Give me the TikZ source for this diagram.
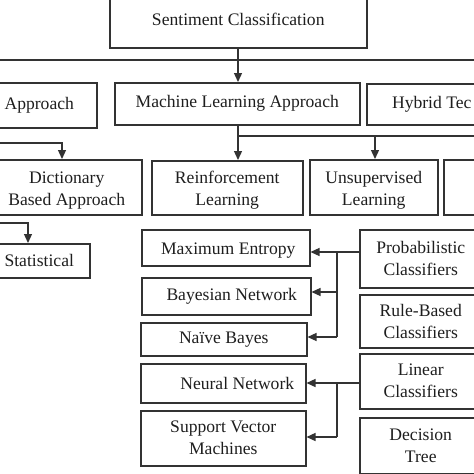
\documentclass[tikz,border=0pt]{standalone}
\usepackage{fontspec}
\setmainfont{Liberation Serif}
\usetikzlibrary{arrows.meta}
\definecolor{boxc}{HTML}{333333}
\definecolor{txtc}{HTML}{1E1E1E}
\tikzset{
  bx/.style={draw=boxc, line width=1.5pt, inner sep=0pt, align=center,
    anchor=north west, text=txtc, font=\fontsize{17.6}{22}\selectfont},
  conn/.style={draw=boxc, line width=1.3pt},
  arr/.style={conn, -{Triangle[length=9pt,width=8pt]}}
}
\newcommand{\dn}{\rule{0pt}{18pt}}
\begin{document}
\begin{tikzpicture}[x=1pt,y=-1pt]
\useasboundingbox (0,0) rectangle (474,474);
\clip (0,0) rectangle (474,474);
% row 1
\node[bx, minimum width=257pt, minimum height=56pt] (sent) at (109,-9) {Sentiment Classification};
% row 2
\node[bx, minimum width=115pt, minimum height=45pt] (lex) at (-19,82) {Approach};
\node[bx, minimum width=245pt, minimum height=42pt] (ml) at (114,82) {Machine Learning Approach};
\node[bx, minimum width=130pt, minimum height=41pt] (hyb) at (366,83) {Hybrid Tec};
% row 3
\node[bx, minimum width=150pt, minimum height=55pt] (dict) at (-9,159) {\dn Dictionary\\Based Approach};
\node[bx, minimum width=151pt, minimum height=54pt] (reinf) at (151,160) {\dn Reinforcement\\Learning};
\node[bx, minimum width=128pt, minimum height=55pt] (unsup) at (309,159) {\dn Unsupervised\\Learning};
\node[bx, minimum width=80pt, minimum height=55pt] (sup) at (443,159) {};
% row 4 left
\node[bx, minimum width=101pt, minimum height=34pt] (stat) at (-12,243) {Statistical};
% classifiers
\node[bx, minimum width=168pt, minimum height=36pt] (maxent) at (141,229) {\dn\hspace*{5pt}Maximum Entropy};
\node[bx, minimum width=169pt, minimum height=37pt] (bnet) at (141,277) {\hspace*{11pt}Bayesian Network};
\node[bx, minimum width=166pt, minimum height=33pt] (nb) at (140,322) {Na\"ive Bayes};
\node[bx, minimum width=165pt, minimum height=39pt] (nn) at (140,363) {\hspace*{28pt}Neural Network};
\node[bx, minimum width=165pt, minimum height=55pt] (svm) at (140,410) {Support Vector\\Machines};
\node[bx, minimum width=122pt, minimum height=58pt] (prob) at (359,229) {Probabilistic\\Classifiers};
\node[bx, minimum width=122pt, minimum height=53pt] (rule) at (359,294) {Rule-Based\\Classifiers};
\node[bx, minimum width=122pt, minimum height=55pt] (lin) at (359,353) {Linear\\Classifiers};
\node[bx, minimum width=122pt, minimum height=56pt] (dec) at (359,417) {Decision\\Tree};
% top connectors
\coordinate (hl) at (-5,60);
\coordinate (hr) at (480,60);
\draw[conn] (hl) -- (hr);
\coordinate (sj) at (238,60);
\draw[arr] (sent.south -| sj) -- (ml.north -| sj);
\coordinate (mlj) at (238,136);
\coordinate (mlr) at (480,136);
\coordinate (uj) at (375,136);
\draw[conn] (mlj) -- (mlr);
\draw[arr] (ml.south -| mlj) -- (reinf.north -| mlj);
\draw[arr] (uj) -- (unsup.north -| uj);
\coordinate (dl) at (-5,143);
\coordinate (dj) at (62,143);
\draw[arr] (dl) -- (dj) -- (dict.north -| dj);
\coordinate (stl) at (-5,223);
\coordinate (stj) at (28,223);
\draw[arr] (stl) -- (stj) -- (stat.north -| stj);
% probabilistic branch
\coordinate (pj) at (337,252);
\coordinate (pm) at (337,292);
\coordinate (pb) at (337,337);
\draw[conn] (prob.west |- pj) -- (pj) -- (pb);
\draw[arr] (pj) -- (maxent.east |- pj);
\draw[arr] (pm) -- (bnet.east |- pm);
\draw[arr] (pb) -- (nb.east |- pb);
% linear branch
\coordinate (lj) at (337,383);
\coordinate (lb) at (337,437);
\draw[conn] (lin.west |- lj) -- (lj) -- (lb);
\draw[arr] (lj) -- (nn.east |- lj);
\draw[arr] (lb) -- (svm.east |- lb);
\end{tikzpicture}
\end{document}
